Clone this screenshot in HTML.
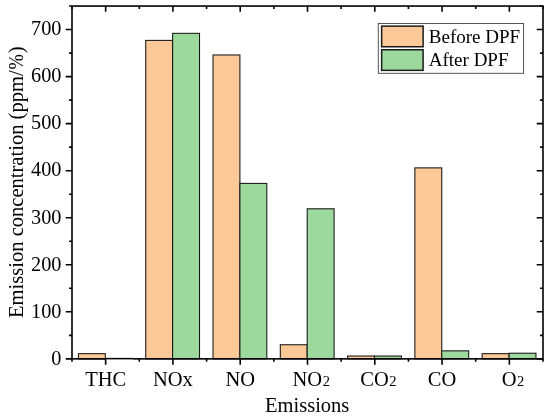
<!DOCTYPE html>
<html lang="en">
<head>
<meta charset="utf-8">
<title>Emission concentration before and after DPF</title>
<style>
html,body{margin:0;padding:0;background:#fff;}
body{width:550px;height:419px;overflow:hidden;}
</style>
</head>
<body>
<svg width="550" height="419" viewBox="0 0 550 419" style="display:block">
<rect x="0" y="0" width="550" height="419" fill="#ffffff"/>
<g stroke="#151515" stroke-width="1.05">
<rect x="78.44" y="353.68" width="26.90" height="5.17" fill="#FBC898"/>
<rect x="105.34" y="358.38" width="26.90" height="0.47" fill="#9DD89D"/>
<rect x="145.73" y="40.39" width="26.90" height="318.46" fill="#FBC898"/>
<rect x="172.63" y="33.33" width="26.90" height="325.52" fill="#9DD89D"/>
<rect x="213.01" y="54.97" width="26.90" height="303.88" fill="#FBC898"/>
<rect x="239.91" y="183.39" width="26.90" height="175.46" fill="#9DD89D"/>
<rect x="280.30" y="344.74" width="26.90" height="14.11" fill="#FBC898"/>
<rect x="307.20" y="208.79" width="26.90" height="150.06" fill="#9DD89D"/>
<rect x="347.59" y="356.03" width="26.90" height="2.82" fill="#FBC898"/>
<rect x="374.49" y="356.03" width="26.90" height="2.82" fill="#9DD89D"/>
<rect x="414.87" y="167.87" width="26.90" height="190.98" fill="#FBC898"/>
<rect x="441.77" y="350.85" width="26.90" height="8.00" fill="#9DD89D"/>
<rect x="482.16" y="353.68" width="26.90" height="5.17" fill="#FBC898"/>
<rect x="509.06" y="353.21" width="26.90" height="5.64" fill="#9DD89D"/>
</g>
<g stroke="#000" stroke-width="1.6" fill="none" stroke-linecap="butt">
<rect x="72.0" y="6.05" width="471.00" height="352.80"/>
<path d="M65.70 358.85H72.00M536.70 358.85H543.00M69.10 335.33H72.00M540.10 335.33H543.00M65.70 311.81H72.00M536.70 311.81H543.00M69.10 288.29H72.00M540.10 288.29H543.00M65.70 264.77H72.00M536.70 264.77H543.00M69.10 241.25H72.00M540.10 241.25H543.00M65.70 217.73H72.00M536.70 217.73H543.00M69.10 194.21H72.00M540.10 194.21H543.00M65.70 170.69H72.00M536.70 170.69H543.00M69.10 147.17H72.00M540.10 147.17H543.00M65.70 123.65H72.00M536.70 123.65H543.00M69.10 100.13H72.00M540.10 100.13H543.00M65.70 76.61H72.00M536.70 76.61H543.00M69.10 53.09H72.00M540.10 53.09H543.00M65.70 29.57H72.00M536.70 29.57H543.00M69.10 6.05H72.00M540.10 6.05H543.00M105.64 358.85v5.8M105.64 6.05v5.8M72.00 358.85v2.9M72.00 6.05v2.9M172.93 358.85v5.8M172.93 6.05v5.8M139.29 358.85v2.9M139.29 6.05v2.9M240.21 358.85v5.8M240.21 6.05v5.8M206.57 358.85v2.9M206.57 6.05v2.9M307.50 358.85v5.8M307.50 6.05v5.8M273.86 358.85v2.9M273.86 6.05v2.9M374.79 358.85v5.8M374.79 6.05v5.8M341.14 358.85v2.9M341.14 6.05v2.9M442.07 358.85v5.8M442.07 6.05v5.8M408.43 358.85v2.9M408.43 6.05v2.9M509.36 358.85v5.8M509.36 6.05v5.8M475.71 358.85v2.9M475.71 6.05v2.9M543.00 358.85v2.9M543.00 6.05v2.9"/>
</g>
<rect x="106.34" y="359.15" width="26.70" height="0.5" fill="#fff"/>
<g font-family="'Liberation Serif', 'Times New Roman', serif" font-size="20.5" fill="#000">
<text x="61.5" y="364.65" font-size="20.3" text-anchor="end">0</text>
<text x="61.5" y="317.61" font-size="20.3" text-anchor="end">100</text>
<text x="61.5" y="270.57" font-size="20.3" text-anchor="end">200</text>
<text x="61.5" y="223.53" font-size="20.3" text-anchor="end">300</text>
<text x="61.5" y="176.49" font-size="20.3" text-anchor="end">400</text>
<text x="61.5" y="129.45" font-size="20.3" text-anchor="end">500</text>
<text x="61.5" y="82.41" font-size="20.3" text-anchor="end">600</text>
<text x="61.5" y="35.37" font-size="20.3" text-anchor="end">700</text>
<text x="105.64" y="385.8" text-anchor="middle">THC</text>
<text x="172.93" y="385.8" text-anchor="middle">NOx</text>
<text x="240.21" y="385.8" text-anchor="middle">NO</text>
<text x="311.20" y="385.8" text-anchor="middle">NO<tspan font-size="14.5" dx="0.5">2</tspan></text>
<text x="378.49" y="385.8" text-anchor="middle">CO<tspan font-size="14.5" dx="0.5">2</tspan></text>
<text x="442.07" y="385.8" text-anchor="middle">CO</text>
<text x="513.06" y="385.8" text-anchor="middle">O<tspan font-size="14.5" dx="0.5">2</tspan></text>
<text x="307.2" y="412.4" text-anchor="middle">Emissions</text>
<text transform="translate(22.8 318.0) rotate(-90)" font-size="20.55">Emission concentration (ppm/<tspan dx="0.85" textLength="15.4" lengthAdjust="spacingAndGlyphs">%</tspan><tspan dx="0.85">)</tspan></text>
<rect x="378.3" y="23.5" width="145.3" height="49.8" fill="#fff" stroke="#444" stroke-width="0.9"/>
<rect x="381.65" y="26.15" width="41.45" height="20.6" fill="#FBC898" stroke="#1a1a1a" stroke-width="1.5"/>
<rect x="381.65" y="49.75" width="41.45" height="20.6" fill="#9DD89D" stroke="#1a1a1a" stroke-width="1.5"/>
<text x="428.8" y="43" font-size="19">Before DPF</text>
<text x="428.8" y="66" font-size="19">After DPF</text>
</g>
</svg>
</body>
</html>
